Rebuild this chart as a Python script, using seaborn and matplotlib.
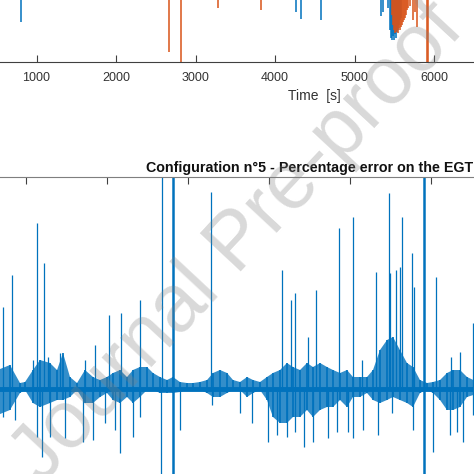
import numpy as np
import pandas as pd
import matplotlib

matplotlib.use('Agg')
import matplotlib.pyplot as plt
import seaborn as sns

# ==========================================
# data
# ==========================================
# upper panel: only the downward spikes of the EGT traces are visible
top_blue_t = [805, 4264, 4327, 4579, 5334, 5359, 5422, 5447, 5460, 5472, 5485, 5497,
              5510, 5522, 5535, 5548, 5560, 5573, 5585]
top_blue_v = [20, 25, 21.5, 21, 23, 25, 27, 16, 12, 11, 13, 11,
              14, 12, 15, 16, 18.5, 21, 22]
top_orange_t = [2667, 2818, 3283, 3824, 5472, 5485, 5497, 5510, 5522, 5535, 5548, 5560,
                5573, 5585, 5598, 5611, 5623, 5636, 5648, 5661, 5673, 5699, 5736, 5761,
                5787, 5913, 5925]
top_orange_v = [5, -5, 27, 26, 23.5, 18.5, 16, 14.5, 15, 16, 14.5, 17,
                16, 17.5, 18.5, 20, 21, 22, 23.5, 26, 27, 28, 21, 25,
                17.5, -5, -5]
top_base = 45

# lower panel: percentage error, dense band + isolated spikes
band_t = [650, 802, 926, 988, 1086, 1173, 1296, 1383, 1457, 1543, 1630, 1728, 1827, 1914,
          2000, 2074, 2161, 2247, 2321, 2407, 2494, 2568, 2654, 2741, 2815, 2901, 2988,
          3062, 3148, 3235, 3309, 3395, 3482, 3556, 3642, 3729, 3803, 3889, 3975, 4049,
          4136, 4222, 4296, 4383, 4469, 4543, 4630, 4716, 4790, 4877, 4963, 5037, 5123,
          5210, 5284, 5370, 5457, 5531, 5617, 5704, 5778, 5864, 5951, 6025, 6111, 6198,
          6272, 6358, 6445, 6600]
band_hi = [0.475, 0.6, 0.15, 0.175, 0.475, 0.725, 0.65, 0.475, 0.9, 0.3, 0.15, 0.475, 0.3, 0.225,
           0.3, 0.4, 0.475, 0.3, 0.475, 0.55, 0.55, 0.4, 0.3, 0.225, 0.3, 0.175, 0.15,
           0.15, 0.175, 0.225, 0.4, 0.475, 0.4, 0.225, 0.175, 0.3, 0.225, 0.175, 0.3, 0.4,
           0.475, 0.65, 0.55, 0.475, 0.65, 0.55, 0.65, 0.55, 0.475, 0.4, 0.475, 0.3, 0.3,
           0.3, 0.475, 0.975, 1.225, 1.3, 0.975, 0.65, 0.55, 0.225, 0.15, 0.175, 0.225, 0.4,
           0.475, 0.475, 0.3, 0.15]
band_lo = [-0.65, -0.525, -0.1, -0.025, -0.35, -0.45, -0.35, -0.275, -0.275, -0.2, -0.025, -0.35, -0.35, -0.2,
           -0.1, -0.275, -0.35, -0.2, -0.35, -0.2, -0.025, -0.025, -0.1, -0.1, -0.1, -0.075, -0.025,
           -0.025, -0.025, -0.1, -0.2, -0.2, -0.1, -0.025, -0.025, -0.2, -0.1, -0.025, -0.275, -0.7,
           -0.85, -0.85, -0.7, -0.7, -0.525, -0.7, -0.525, -0.45, -0.45, -0.275, -0.45, -0.2, -0.2,
           -0.1, -0.275, -0.35, -0.275, -0.2, -0.275, -0.35, -0.45, -0.1, -0.025, -0.1, -0.275, -0.525,
           -0.525, -0.45, -0.2, -0.1]

up_t = [716, 827, 1086, 1136, 1222, 1272, 1420, 1728, 1852, 2025, 2173, 2407, 2679, 3284,
        4161, 4272, 4321, 4481, 4580, 4864, 5037, 5148, 5321, 5481, 5494, 5568, 5617, 5642,
        5765, 5790, 6062, 6247, 6358, 6519]
up_v = [2.05, 2.85, 0.725, 4.15, 3.15, 0.8, 0.9, 0.725, 1.1, 1.85, 1.9, 2.225, 7.0, 4.925,
        2.975, 2.225, 2.4, 1.3, 2.475, 4.025, 4.3, 0.725, 2.925, 4.9, 2.9, 2.975, 3.05, 4.3,
        3.4, 2.55, 2.8, 0.8, 0.925, 1.65]
down_t = [716, 864, 1136, 1198, 1296, 1481, 1704, 1827, 1975, 2099, 2161, 2321, 2407, 2667,
          2901, 3296, 3642, 3790, 3988, 4099, 4222, 4321, 4432, 4543, 4728, 4840, 4975, 5037,
          5160, 5346, 5519, 5778, 6025, 6235, 6321, 6395, 6519]
down_v = [-0.7, -0.775, -1.2, -1.7, -1.2, -1.225, -1.325, -1.275, -0.85, -1.025, -1.6, -1.2, -0.7, -7.0,
          -1.025, -0.4, -0.6, -0.85, -1.325, -1.15, -1.2, -1.075, -1.45, -1.325, -1.225, -1.075, -1.075, -1.225,
          -1.025, -1.15, -0.6, -1.025, -1.575, -1.15, -1.075, -1.325, -0.65]
# the two big outliers crossing the whole panel
big_t = [2815, 5914]
big_up = [7.5, 7.5]
big_down = [-7.5, -7.5]

BLUE = '#0072BD'
ORANGE = '#D95319'
AX_COL = '#404040'
TICKS = [1000, 2000, 3000, 4000, 5000, 6000]

sns.set_theme(style='white')
plt.rcParams['font.family'] = ['Liberation Sans', 'DejaVu Sans']

fig = plt.figure(figsize=(4.74, 4.74), dpi=100)

# ------------------------------------------
# upper panel (cropped: only its time axis shows)
# ------------------------------------------
ax1 = fig.add_axes([-43 / 474, 1 - 62 / 474, 715.5 / 474, 200 / 474])
ax1.vlines(top_blue_t, top_base, top_blue_v, color=BLUE, lw=1.1)
ax1.vlines(top_orange_t, top_base, top_orange_v, color=ORANGE, lw=1.1)
ax1.set_xlim(0, 9000)
ax1.set_ylim(0, 100)
ax1.set_xticks(TICKS)
ax1.set_yticks([])
for s in ['top', 'left', 'right']:
    ax1.spines[s].set_visible(False)
ax1.spines['bottom'].set_color(AX_COL)
ax1.spines['bottom'].set_linewidth(0.8)
ax1.tick_params(axis='x', direction='in', length=5, width=0.8, color=AX_COL,
                labelsize=9, labelcolor='#333333', pad=7, bottom=True)
ax1.set_xlabel('Time  [s]', fontsize=10, color='#333333', labelpad=4)

# ------------------------------------------
# lower panel
# ------------------------------------------
ax2 = fig.add_axes([-55 / 474, 1 - 589 / 474, 729 / 474, 412 / 474])
band = pd.DataFrame({'t': band_t, 'hi': band_hi, 'lo': band_lo})
ax2.fill_between(band['t'], band['lo'], band['hi'], color=BLUE, lw=0, alpha=0.8)
ax2.vlines(band['t'], band['lo'], band['hi'], color=BLUE, lw=1.2)
sns.lineplot(x=band_t, y=[0] * len(band_t), ax=ax2, color=BLUE, lw=3.5)
ax2.vlines(up_t, 0, up_v, color=BLUE, lw=0.9)
ax2.vlines(down_t, 0, down_v, color=BLUE, lw=0.9)
ax2.vlines(big_t, big_down, big_up, color=BLUE, lw=1.8)
ax2.set_xlim(0, 9000)
ax2.set_ylim(-5, 5.3)
ax2.set_xticks(TICKS)
ax2.set_yticks([])
ax2.set_xlabel('')
ax2.set_ylabel('')
for s in ['bottom', 'left', 'right']:
    ax2.spines[s].set_visible(False)
ax2.spines['top'].set_color('#7f7f7f')
ax2.spines['top'].set_linewidth(0.8)
ax2.tick_params(axis='x', direction='in', length=5, width=0.8, color=AX_COL,
                top=True, bottom=False, labeltop=False, labelbottom=False)

fig.text(473 / 474, 1 - 168 / 474, 'Configuration n°5 - Percentage error on the EGT',
         ha='right', va='center', fontsize=10.3, fontweight='bold', color='#111111')

# watermark
fig.text(238 / 474, 1 - 244 / 474, 'Journal Pre-proof', ha='center', va='center',
         rotation=47, fontsize=58, color='#808080', alpha=0.3, zorder=10)

fig.savefig('out.png', dpi=100)
